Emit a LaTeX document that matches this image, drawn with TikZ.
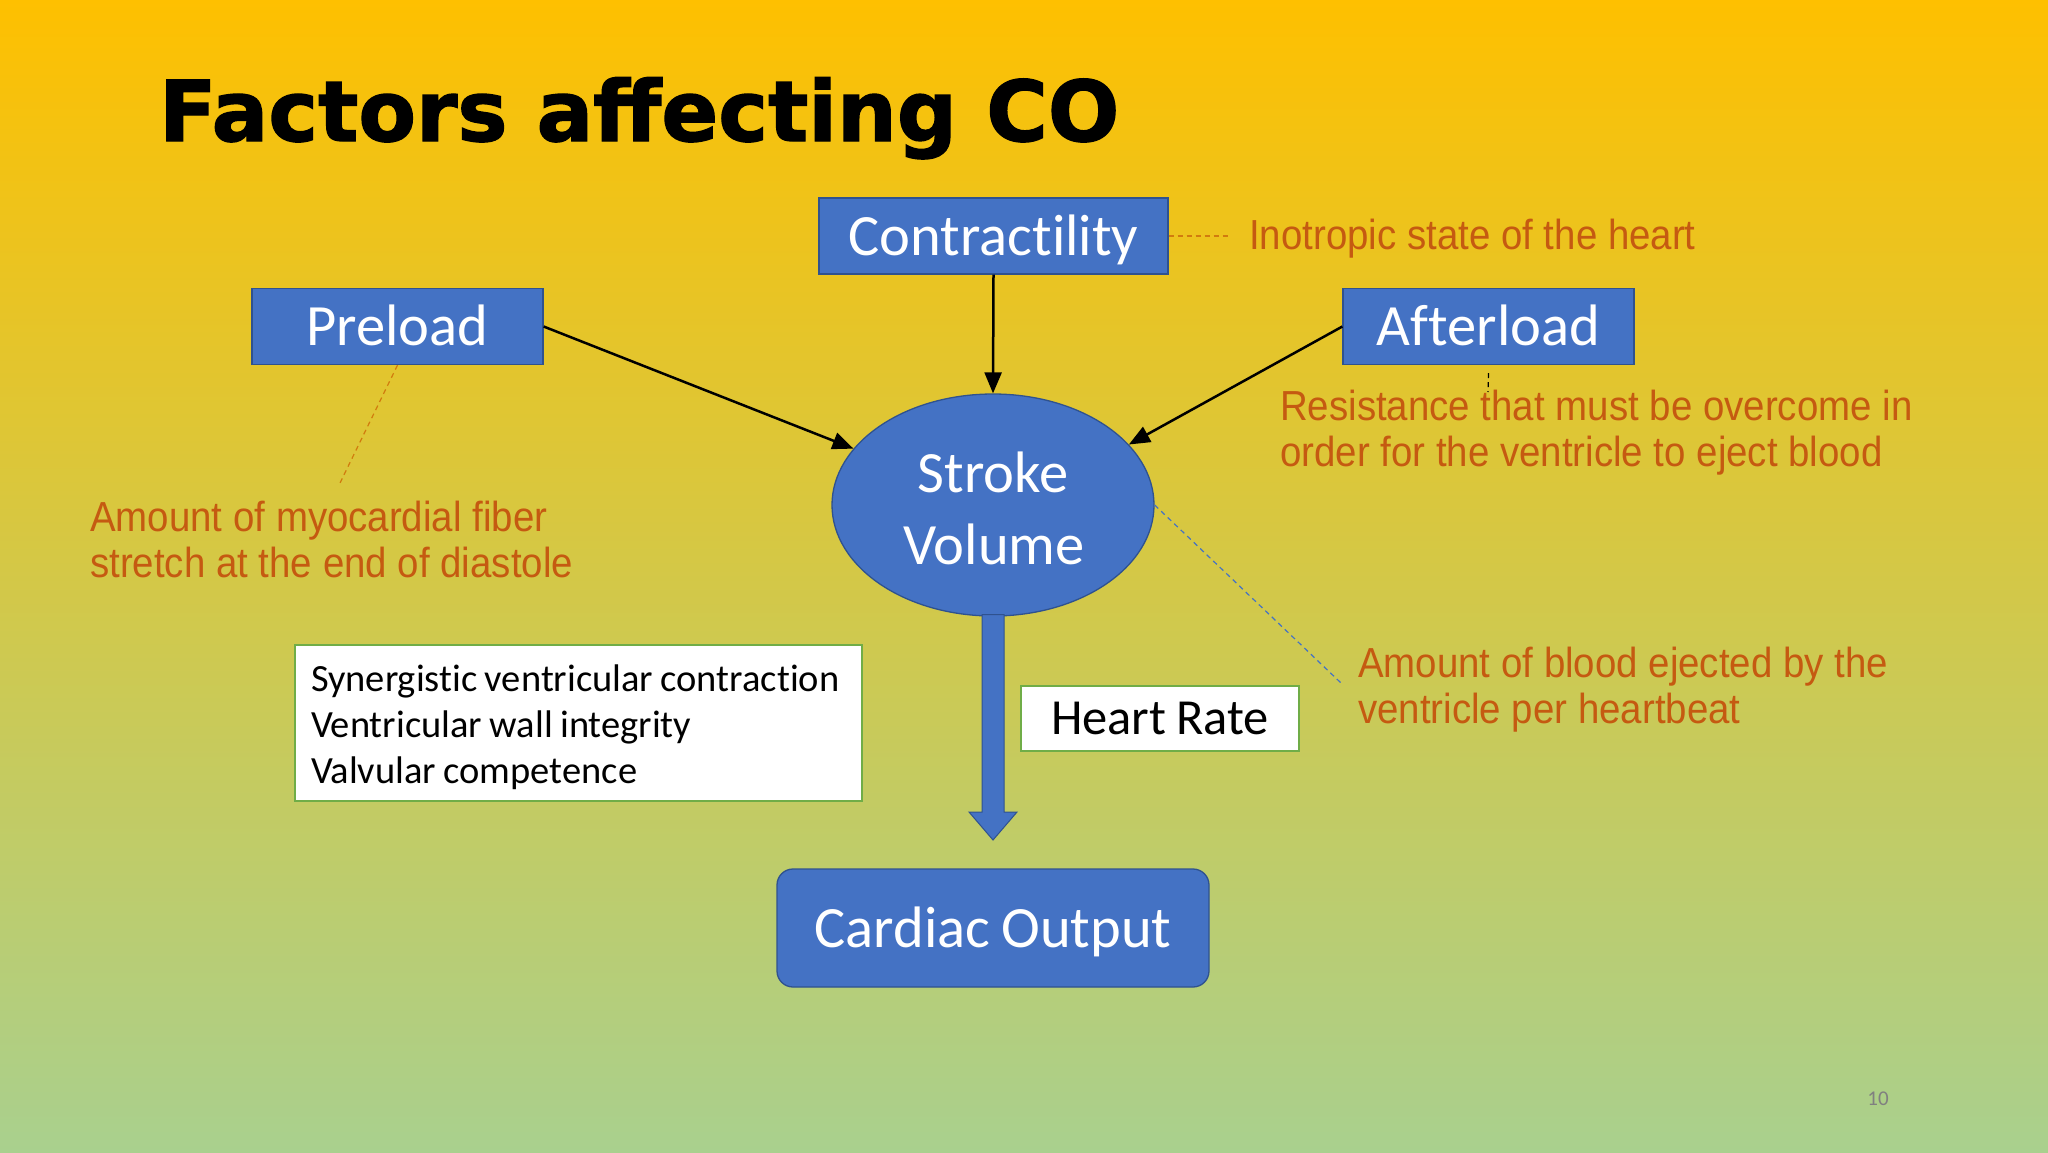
\documentclass[tikz,border=0pt]{standalone}
\usepackage{fontspec}
\setmainfont{Carlito}[Ligatures=NoCommon, WordSpace=0.85]
\newfontfamily\notefont[FakeStretch=0.915]{Liberation Sans}
\newfontfamily\titlefont[FakeBold=1.6]{DejaVu Sans Bold}
\usetikzlibrary{shapes.geometric,calc,arrows.meta}
\definecolor{bgtop}{HTML}{FEC000}
\definecolor{bgmid}{HTML}{D9C940}
\definecolor{bgbot}{HTML}{A9D08E}
\definecolor{boxblue}{HTML}{4472C4}
\definecolor{boxborder}{HTML}{2F528F}
\definecolor{notecol}{HTML}{C55A11}
\definecolor{greenline}{HTML}{70AD47}
\tikzset{
  bluebox/.style={draw=boxborder, line width=1.3pt, fill=boxblue, text=white,
    font=\fontsize{58.5}{62}\selectfont, inner sep=0pt, minimum height=76pt,
    text height=46pt, text depth=8pt},
  note/.style={text=notecol, font=\notefont\fontsize{42}{46}\selectfont,
    inner sep=0pt, align=left, anchor=west},
  arr/.style={draw=black, line width=2.5pt, -{Triangle[length=21pt,width=17pt]}},
  leader/.style={line width=1.2pt, dashed, dash pattern=on 5pt off 4pt},
}
\begin{document}
\begin{tikzpicture}[x=1pt,y=-1pt]
\useasboundingbox (0,0) rectangle (2048,1152);
\shade[top color=bgtop, middle color=bgmid, bottom color=bgbot] (0,0) rectangle (2048,1152);

% title
\node[anchor=base west, inner sep=0pt, font=\titlefont\fontsize{84}{90}\selectfont] (title) at (159,141) {Factors affecting CO};

% boxes
\node[bluebox, minimum width=349pt] (con) at (993.5,236) {Contractility};
\node[bluebox, minimum width=291pt] (pre) at (397.5,326.5) {Preload};
\node[bluebox, minimum width=291pt] (aft) at (1488.5,326.5) {Afterload};
\node[ellipse, draw=boxborder, fill=boxblue, line width=1.3pt, minimum width=322pt,
  minimum height=222pt, text=white, font=\fontsize{58.5}{72}\selectfont,
  inner sep=0pt] (sv) at (993,505) {\raisebox{-3pt}[\height][\depth]{\parbox{180pt}{\centering Stroke\\Volume}}};

% thick arrow to cardiac output
\coordinate (tip) at (993,840);
\filldraw[fill=boxblue, draw=boxborder, line width=1pt]
  ($(sv.south)+(-11,-2)$) -- ($(tip)+(-11,-28)$) -- ($(tip)+(-24,-28)$) -- (tip)
  -- ($(tip)+(24,-28)$) -- ($(tip)+(11,-28)$) -- ($(sv.south)+(11,-2)$) -- cycle;

\node[draw=boxborder, line width=1.3pt, fill=boxblue, text=white, rounded corners=16pt,
  minimum width=432pt, minimum height=118pt, inner sep=0pt, text height=46pt, text depth=8pt,
  font=\fontsize{58.5}{62}\selectfont] (co) at (993,928) {Cardiac Output};

\node[draw=greenline, line width=1.5pt, fill=white, minimum width=278pt, minimum height=65pt,
  inner sep=0pt, text height=39pt, text depth=7pt, font=\fontsize{50.5}{54}\selectfont] (hr) at (1160,718.5) {Heart Rate};

\node[draw=greenline, line width=1.5pt, fill=white, minimum width=567pt, minimum height=156pt,
  inner sep=0pt, font=\fontsize{38.5}{46}\selectfont] (lst) at (578.5,723)
  {\raisebox{-4pt}[\height][\depth]{\parbox{535pt}{\raggedright Synergistic ventricular contraction\\Ventricular wall integrity\\Valvular competence}}};

% arrows
\draw[arr] (con.south) -- (sv.north);
\draw[arr] (pre.east) -- (sv.158);
\draw[arr] (aft.west) -- (sv.24);

% notes
\node[note] (n1) at (1249,239) {Inotropic state of the heart};
\node[note] (n2) at (1280,433) {Resistance that must be overcome in\\order for the ventricle to eject blood};
\node[note] (n3) at (90,539) {Amount of myocardial fiber\\stretch at the end of diastole};
\node[note] (n4) at (1358,690) {Amount of blood ejected by the\\ventricle per heartbeat};

% leaders
\coordinate (c1) at (1228,236);
\coordinate (c2) at (340,483);
\coordinate (c3) at (1488,392);
\coordinate (c4) at (1341,683);
\draw[leader, draw=notecol!80!yellow] (con.east) -- (c1);
\draw[leader, draw=notecol!80!yellow] (pre.south) -- (c2);
\draw[leader, draw=black] ($(aft.south)+(0,8)$) -- (c3);
\draw[leader, draw=boxblue] (sv.east) -- (c4);

% page number
\node[font=\fontsize{21}{24}\selectfont, text=gray] (pg) at (1878,1099) {10};
\end{tikzpicture}
\end{document}
